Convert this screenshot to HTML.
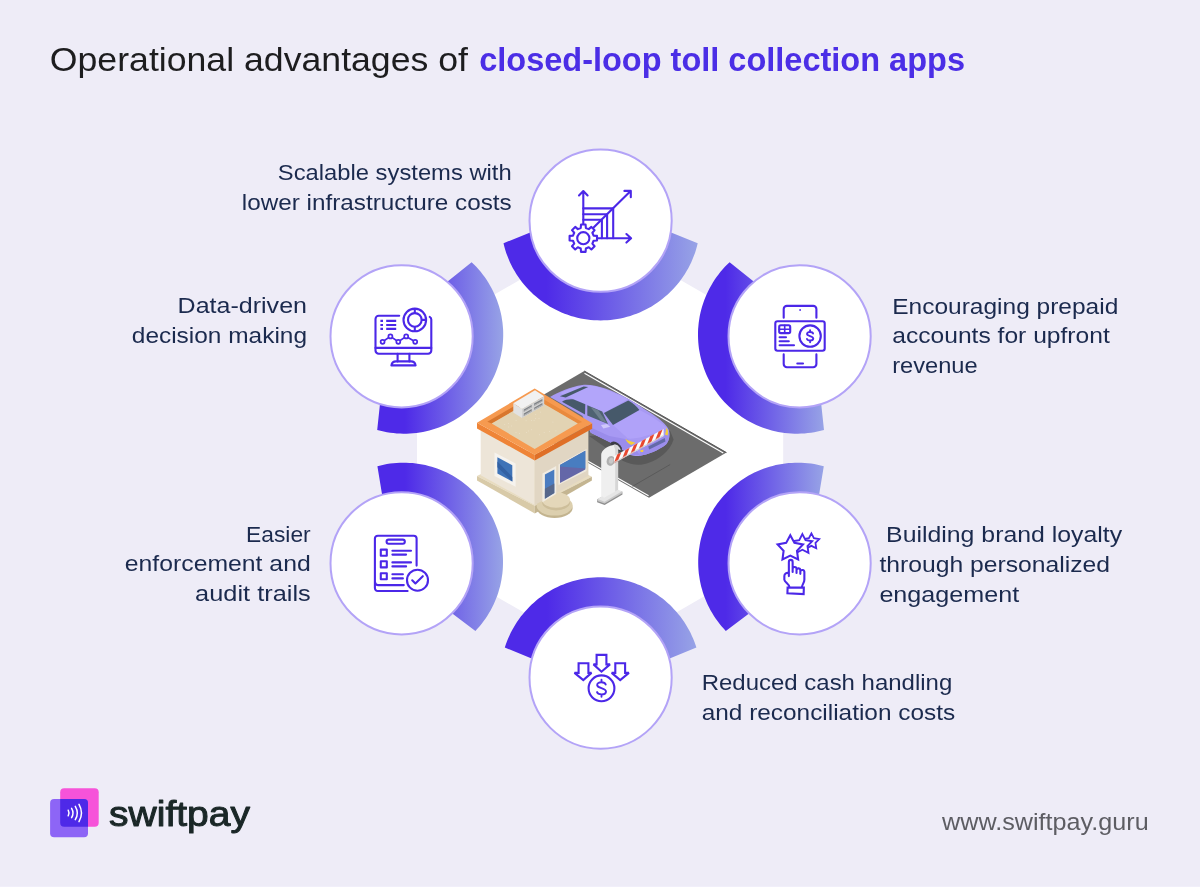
<!DOCTYPE html>
<html><head><meta charset="utf-8"><title>Operational advantages</title>
<style>html,body{margin:0;padding:0;background:#eeecf7;}body{width:1200px;height:887px;overflow:hidden;font-family:"Liberation Sans",sans-serif;}svg{display:block;}</style>
</head><body>
<svg width="1200" height="887" viewBox="0 0 1200 887">
<defs>
<linearGradient id="ag" x1="0" y1="0" x2="1" y2="0">
<stop offset="0" stop-color="#4e2ae8"/><stop offset="0.22" stop-color="#4e2ae8"/><stop offset="1" stop-color="#97a3e6"/>
</linearGradient>
</defs>
<rect width="1200" height="887" fill="#eeecf7"/>
<polygon points="600.1,233.6 417.0,339.3 417.0,550.7 600.1,656.4 783.2,550.7 783.2,339.3" fill="#ffffff"/>
<path d="M697.7,243.2 L696.9,246.5 L696.0,249.7 L695.0,252.9 L693.8,256.0 L692.6,259.1 L691.3,262.2 L689.8,265.2 L688.3,268.2 L686.6,271.1 L684.9,274.0 L683.0,276.8 L681.1,279.5 L679.1,282.2 L677.0,284.8 L674.8,287.3 L672.5,289.8 L670.2,292.1 L667.7,294.4 L665.2,296.6 L662.6,298.8 L660.0,300.8 L657.2,302.7 L654.5,304.6 L651.6,306.4 L648.7,308.0 L645.8,309.6 L642.7,311.1 L639.7,312.4 L636.6,313.7 L633.4,314.8 L630.3,315.9 L627.1,316.8 L623.8,317.7 L620.5,318.4 L617.3,319.0 L613.9,319.5 L610.6,319.9 L607.3,320.2 L603.9,320.3 L600.6,320.4 L597.3,320.3 L593.9,320.2 L590.6,319.9 L587.3,319.5 L583.9,319.0 L580.7,318.4 L577.4,317.7 L574.1,316.8 L570.9,315.9 L567.8,314.8 L564.6,313.7 L561.5,312.4 L558.5,311.1 L555.4,309.6 L552.5,308.0 L549.6,306.4 L546.7,304.6 L544.0,302.7 L541.2,300.8 L538.6,298.8 L536.0,296.6 L533.5,294.4 L531.0,292.1 L528.7,289.8 L526.4,287.3 L524.2,284.8 L522.1,282.2 L520.1,279.5 L518.2,276.8 L516.3,274.0 L514.6,271.1 L512.9,268.2 L511.4,265.2 L509.9,262.2 L508.6,259.1 L507.4,256.0 L506.2,252.9 L505.2,249.7 L504.3,246.5 L503.5,243.2 L548.0,225.3 L600.6,220.7 L653.2,225.3Z" fill="url(#ag)"/>
<path d="M471.6,262.2 L474.0,264.5 L476.3,266.8 L478.5,269.3 L480.7,271.8 L482.7,274.4 L484.7,277.0 L486.6,279.8 L488.3,282.5 L490.0,285.4 L491.6,288.3 L493.1,291.2 L494.5,294.2 L495.8,297.2 L497.0,300.3 L498.1,303.4 L499.1,306.6 L500.0,309.7 L500.8,313.0 L501.5,316.2 L502.0,319.4 L502.5,322.7 L502.8,326.0 L503.1,329.3 L503.2,332.6 L503.2,335.9 L503.1,339.2 L502.9,342.5 L502.6,345.8 L502.2,349.1 L501.6,352.3 L501.0,355.5 L500.2,358.8 L499.4,362.0 L498.4,365.1 L497.3,368.2 L496.2,371.3 L494.9,374.4 L493.5,377.4 L492.1,380.3 L490.5,383.2 L488.8,386.1 L487.1,388.9 L485.2,391.6 L483.3,394.3 L481.2,396.9 L479.1,399.4 L476.9,401.9 L474.6,404.3 L472.3,406.6 L469.8,408.8 L467.3,411.0 L464.8,413.0 L462.1,415.0 L459.4,416.9 L456.6,418.7 L453.8,420.4 L450.9,422.0 L448.0,423.5 L445.0,424.9 L442.0,426.2 L438.9,427.4 L435.8,428.5 L432.6,429.5 L429.4,430.4 L426.2,431.2 L423.0,431.9 L419.8,432.5 L416.5,432.9 L413.2,433.3 L409.9,433.5 L406.6,433.7 L403.3,433.7 L400.0,433.6 L396.7,433.4 L393.4,433.1 L390.2,432.7 L386.9,432.2 L383.7,431.5 L380.4,430.8 L377.2,430.0 L382.3,382.2 L404.2,334.7 L434.2,292.2Z" fill="url(#ag)"/>
<path d="M729.6,262.2 L727.2,264.5 L724.9,266.8 L722.7,269.3 L720.5,271.8 L718.5,274.4 L716.5,277.0 L714.6,279.8 L712.9,282.5 L711.2,285.4 L709.6,288.3 L708.1,291.2 L706.7,294.2 L705.4,297.2 L704.2,300.3 L703.1,303.4 L702.1,306.6 L701.2,309.7 L700.4,313.0 L699.7,316.2 L699.2,319.4 L698.7,322.7 L698.4,326.0 L698.1,329.3 L698.0,332.6 L698.0,335.9 L698.1,339.2 L698.3,342.5 L698.6,345.8 L699.0,349.1 L699.6,352.3 L700.2,355.5 L701.0,358.8 L701.8,362.0 L702.8,365.1 L703.9,368.2 L705.0,371.3 L706.3,374.4 L707.7,377.4 L709.1,380.3 L710.7,383.2 L712.4,386.1 L714.1,388.9 L716.0,391.6 L717.9,394.3 L720.0,396.9 L722.1,399.4 L724.3,401.9 L726.6,404.3 L728.9,406.6 L731.4,408.8 L733.9,411.0 L736.4,413.0 L739.1,415.0 L741.8,416.9 L744.6,418.7 L747.4,420.4 L750.3,422.0 L753.2,423.5 L756.2,424.9 L759.2,426.2 L762.3,427.4 L765.4,428.5 L768.6,429.5 L771.8,430.4 L775.0,431.2 L778.2,431.9 L781.4,432.5 L784.7,432.9 L788.0,433.3 L791.3,433.5 L794.6,433.7 L797.9,433.7 L801.2,433.6 L804.5,433.4 L807.8,433.1 L811.0,432.7 L814.3,432.2 L817.5,431.5 L820.8,430.8 L824.0,430.0 L818.9,382.2 L797.0,334.7 L767.0,292.2Z" fill="url(#ag)"/>
<path d="M377.4,466.2 L380.6,465.4 L383.7,464.7 L386.9,464.1 L390.1,463.6 L393.3,463.2 L396.5,462.9 L399.8,462.8 L403.0,462.7 L406.2,462.7 L409.5,462.9 L412.7,463.1 L415.9,463.5 L419.1,463.9 L422.3,464.5 L425.4,465.1 L428.6,465.9 L431.7,466.8 L434.8,467.7 L437.8,468.8 L440.9,470.0 L443.8,471.2 L446.8,472.6 L449.6,474.0 L452.5,475.6 L455.3,477.2 L458.0,479.0 L460.7,480.8 L463.3,482.7 L465.8,484.7 L468.3,486.7 L470.8,488.9 L473.1,491.1 L475.4,493.4 L477.6,495.8 L479.7,498.2 L481.7,500.7 L483.7,503.3 L485.6,505.9 L487.3,508.6 L489.0,511.4 L490.6,514.2 L492.2,517.0 L493.6,519.9 L494.9,522.9 L496.1,525.9 L497.3,528.9 L498.3,532.0 L499.2,535.1 L500.1,538.2 L500.8,541.3 L501.4,544.5 L501.9,547.7 L502.4,550.9 L502.7,554.1 L502.9,557.3 L503.0,560.6 L503.0,563.8 L502.9,567.0 L502.7,570.3 L502.4,573.5 L501.9,576.7 L501.4,579.9 L500.8,583.0 L500.1,586.2 L499.2,589.3 L498.3,592.4 L497.3,595.5 L496.1,598.5 L494.9,601.5 L493.6,604.4 L492.2,607.3 L490.7,610.2 L489.0,613.0 L487.4,615.8 L485.6,618.5 L483.7,621.1 L481.7,623.7 L479.7,626.2 L477.6,628.6 L475.4,631.0 L437.1,602.1 L403.5,562.2 L385.2,513.5Z" fill="url(#ag)"/>
<path d="M823.8,466.2 L820.6,465.4 L817.5,464.7 L814.3,464.1 L811.1,463.6 L807.9,463.2 L804.7,462.9 L801.4,462.8 L798.2,462.7 L795.0,462.7 L791.7,462.9 L788.5,463.1 L785.3,463.5 L782.1,463.9 L778.9,464.5 L775.8,465.1 L772.6,465.9 L769.5,466.8 L766.4,467.7 L763.4,468.8 L760.3,470.0 L757.4,471.2 L754.4,472.6 L751.6,474.0 L748.7,475.6 L745.9,477.2 L743.2,479.0 L740.5,480.8 L737.9,482.7 L735.4,484.7 L732.9,486.7 L730.4,488.9 L728.1,491.1 L725.8,493.4 L723.6,495.8 L721.5,498.2 L719.5,500.7 L717.5,503.3 L715.6,505.9 L713.9,508.6 L712.2,511.4 L710.6,514.2 L709.0,517.0 L707.6,519.9 L706.3,522.9 L705.1,525.9 L703.9,528.9 L702.9,532.0 L702.0,535.1 L701.1,538.2 L700.4,541.3 L699.8,544.5 L699.3,547.7 L698.8,550.9 L698.5,554.1 L698.3,557.3 L698.2,560.6 L698.2,563.8 L698.3,567.0 L698.5,570.3 L698.8,573.5 L699.3,576.7 L699.8,579.9 L700.4,583.0 L701.1,586.2 L702.0,589.3 L702.9,592.4 L703.9,595.5 L705.1,598.5 L706.3,601.5 L707.6,604.4 L709.0,607.3 L710.5,610.2 L712.2,613.0 L713.8,615.8 L715.6,618.5 L717.5,621.1 L719.5,623.7 L721.5,626.2 L723.6,628.6 L725.8,631.0 L764.1,602.1 L797.7,562.2 L816.0,513.5Z" fill="url(#ag)"/>
<path d="M504.8,647.5 L505.8,644.5 L506.9,641.5 L508.1,638.6 L509.4,635.7 L510.7,632.8 L512.2,630.0 L513.8,627.2 L515.4,624.5 L517.1,621.8 L518.9,619.2 L520.8,616.6 L522.8,614.2 L524.8,611.7 L527.0,609.4 L529.2,607.1 L531.4,604.8 L533.8,602.7 L536.2,600.6 L538.6,598.6 L541.2,596.7 L543.8,594.8 L546.4,593.1 L549.1,591.4 L551.9,589.8 L554.7,588.3 L557.5,586.9 L560.4,585.6 L563.4,584.4 L566.3,583.2 L569.3,582.2 L572.4,581.3 L575.4,580.4 L578.5,579.7 L581.6,579.0 L584.8,578.5 L587.9,578.0 L591.1,577.7 L594.2,577.4 L597.4,577.3 L600.6,577.2 L603.8,577.3 L607.0,577.4 L610.1,577.7 L613.3,578.0 L616.4,578.5 L619.6,579.0 L622.7,579.7 L625.8,580.4 L628.8,581.3 L631.9,582.2 L634.9,583.2 L637.8,584.4 L640.8,585.6 L643.7,586.9 L646.5,588.3 L649.3,589.8 L652.1,591.4 L654.8,593.1 L657.4,594.8 L660.0,596.7 L662.6,598.6 L665.0,600.6 L667.4,602.7 L669.8,604.8 L672.0,607.1 L674.2,609.4 L676.4,611.7 L678.4,614.2 L680.4,616.6 L682.3,619.2 L684.1,621.8 L685.8,624.5 L687.4,627.2 L689.0,630.0 L690.5,632.8 L691.8,635.7 L693.1,638.6 L694.3,641.5 L695.4,644.5 L696.4,647.5 L652.0,665.7 L600.6,677.6 L549.2,665.7Z" fill="url(#ag)"/>
<circle cx="600.6" cy="220.7" r="71.1" fill="#ffffff" stroke="#b3a3f7" stroke-width="2"/>
<circle cx="401.6" cy="336.3" r="71.1" fill="#ffffff" stroke="#b3a3f7" stroke-width="2"/>
<circle cx="799.6" cy="336.3" r="71.1" fill="#ffffff" stroke="#b3a3f7" stroke-width="2"/>
<circle cx="401.6" cy="563.3" r="71.1" fill="#ffffff" stroke="#b3a3f7" stroke-width="2"/>
<circle cx="799.6" cy="563.3" r="71.1" fill="#ffffff" stroke="#b3a3f7" stroke-width="2"/>
<circle cx="600.6" cy="677.6" r="71.1" fill="#ffffff" stroke="#b3a3f7" stroke-width="2"/>
<g>
<polygon points="584.3,371.0 726.5,452.6 649.0,497.8 506.8,416.2" fill="#6c6c6c" />
<path d="M584.3,371.0 L726.5,452.6" stroke="#4d4d4d" stroke-width="0.9" fill="none"/>
<path d="M584.5,373.2 L723.3,452.9" stroke="#ffffff" stroke-width="1.1" fill="none"/>
<path d="M509.8,416.4 L648.6,495.7" stroke="#ffffff" stroke-width="1.1" fill="none"/>
<path d="M 632.6,486.3 L 670.2,464.5" fill="none" stroke="#585858" stroke-width="0.9"/>
<path d="M 589.0,436.1 L 611.0,451.3 C 619.5,461.4 634.7,468.2 648.2,463.1 C 658.3,459.7 670.2,451.3 673.6,439.5 L 670.2,431.0 Z" fill="#595959" />
<path d="M 550.1,396.9 C 558.6,392.1 570.4,386.7 582.3,385.0 C 594.1,383.7 611.0,389.6 627.9,398.5 C 634.7,402.3 641.4,407.3 648.2,411.6 C 658.3,417.5 666.8,425.1 668.5,429.3 C 670.5,434.4 669.8,439.5 666.0,444.5 C 658.3,450.4 648.2,454.7 638.9,456.0 C 632.1,456.4 627.9,453.8 623.7,450.4 L 614.4,444.5 L 590.7,432.7 L 582.3,415.8 Z" fill="#a799f3" />
<path d="M 560.3,393.0 C 570.4,387.0 580.6,385.4 589.0,385.4 C 600.9,386.2 616.1,393.0 627.9,399.2 L 604.2,412.7 C 595.8,408.2 585.6,404.3 573.8,399.2 Z" fill="#b2a5fa" />
<path d="M 613.0,424.9 L 639.4,410.0 C 651.6,415.8 663.4,424.2 667.1,428.5 C 658.3,431.0 641.4,439.5 627.9,438.6 Z" fill="#b0a2f9" />
<path d="M 590.7,427.6 L 609.3,436.1 L 627.9,439.5 L 639.7,454.7 C 633.0,456.0 627.9,453.8 623.7,450.4 L 614.4,444.5 L 590.7,432.7 Z" fill="#9a8ceb" />
<path d="M 641.4,447.9 C 651.6,444.5 661.7,437.8 668.5,432.7 C 669.8,437.8 668.5,442.0 666.0,444.5 C 658.3,450.4 648.2,454.7 638.9,456.0 Z" fill="#9c8eec" />
<path d="M 648.2,446.6 L 664.8,438.1 L 665.4,441.5 L 649.2,449.6 Z" fill="#636aa8" />
<path d="M 559.9,396.3 L 583.6,386.5 L 588.2,387.0 L 565.7,397.5 Z" fill="#46596a" />
<path d="M 562.0,401.8 C 565.4,399.2 571.3,398.9 573.8,399.6 L 585.3,404.3 L 585.0,414.4 Z" fill="#46596a" />
<path d="M 587.3,405.3 L 602.2,411.6 L 608.0,423.9 L 587.3,415.5 Z" fill="#4f6271" />
<path d="M 603.9,413.1 L 628.3,400.6 C 633.0,403.1 636.4,406.5 639.4,410.0 L 613.0,424.9 Z" fill="#46596a" />
<path d="M 590.7,407.3 L 598.3,410.2 L 606.8,422.9 L 600.9,420.5 Z" fill="#6d7f8c" />
<path d="M 600.9,425.1 L 606.8,423.9 L 610.2,426.8 L 603.4,428.5 Z" fill="#cfc8fb" />
<path d="M 625.4,439.1 C 628.8,441.1 632.1,442.0 635.5,442.8 L 631.3,445.0 C 628.8,444.2 626.6,442.0 625.4,439.1 Z" fill="#f4cf3a" />
<path d="M 666.0,428.0 C 668.0,429.0 668.8,431.9 667.6,435.6 L 665.1,434.4 C 666.0,431.9 666.0,429.7 666.0,428.0 Z" fill="#f4cf3a" />
<path d="M 640.1,450.4 L 643.5,449.6 L 643.1,452.1 L 640.8,452.1 Z" fill="#f4cf3a" />
<path d="M 610.2,443.7 C 611.9,439.5 618.6,441.1 622.0,447.9 L 621.1,452.1 L 612.7,447.9 Z" fill="#3c3c46" />
<path d="M 614.4,444.5 C 616.9,443.7 620.3,447.1 620.8,450.4 L 616.9,448.8 Z" fill="#d8d8de" />
<path d="M 597.1,499.6 L 605.1,494.9 L 622.3,491.5 L 622.5,494.6 L 604.6,505.1 L 597.1,502.3 Z" fill="#8f8f8f" />
<path d="M 597.5,499.0 L 605.1,494.9 L 622.0,491.0 L 622.2,493.2 L 604.6,503.4 L 597.5,501.0 Z" fill="#c9c9c9" />
<path d="M 597.5,499.0 L 615.2,488.8 L 622.0,491.2 L 604.6,501.7 Z" fill="#e6e6e6" />
<path d="M 601.2,454.7 C 601.2,450.4 607.6,445.4 613.5,444.9 C 616.4,444.5 618.1,446.2 618.1,448.8 L 618.1,489.8 L 604.2,497.8 L 601.2,496.1 Z" fill="#efefef" />
<path d="M 613.5,444.9 C 616.4,444.5 618.1,446.2 618.1,448.8 L 618.1,489.8 L 615.2,491.5 L 615.2,449.6 Z" fill="#d6d6d6" />
<ellipse cx="610.7" cy="460.9" rx="4.0" ry="5.0" fill="#b0b0b0" transform="rotate(20 610.7 460.9)"/>
<ellipse cx="611.2" cy="460.8" rx="2.2" ry="3.0" fill="#c9c9c9" transform="rotate(20 611.2 460.8)"/>
<polygon points="614.0,456.2 663.6,428.9 663.6,435.9 614.0,463.2" fill="#fbfbfb"/>
<polygon points="617.2,454.5 621.3,452.2 617.8,461.2 613.7,463.4" fill="#e8482f"/>
<polygon points="625.5,449.9 629.6,447.7 626.1,456.6 622.0,458.9" fill="#e8482f"/>
<polygon points="633.7,445.4 637.8,443.1 634.3,452.0 630.2,454.3" fill="#e8482f"/>
<polygon points="642.0,440.8 646.1,438.5 642.6,447.5 638.5,449.7" fill="#e8482f"/>
<polygon points="650.2,436.2 654.4,434.0 650.9,442.9 646.7,445.2" fill="#e8482f"/>
<polygon points="658.5,431.7 662.6,429.4 659.1,438.3 655.0,440.6" fill="#e8482f"/>
<polygon points="614.0,462.1 663.6,434.8 663.6,435.9 614.0,463.2" fill="#cfcfcf" opacity="0.9"/>
<polygon points="477.0,476.1 534.8,505.8 591.9,476.7 534.8,447.5" fill="#e8dcc0" />
<polygon points="477.0,476.1 534.8,505.8 534.8,513.5 477.0,480.4" fill="#d8caa8" />
<polygon points="534.8,505.8 591.9,476.7 591.9,480.4 534.8,513.5" fill="#c4b591" />
<ellipse cx="554.6" cy="507.9" rx="18.0" ry="10.0" fill="#c3b48f"/>
<ellipse cx="554.6" cy="505.6" rx="18.0" ry="10.0" fill="#dccfae"/>
<ellipse cx="556.1" cy="502.6" rx="14.0" ry="7.8" fill="#cdbe9a"/>
<ellipse cx="556.1" cy="500.0" rx="14.0" ry="7.8" fill="#e4d7b9"/>
<polygon points="480.7,426.1 534.7,456.8 534.7,505.0 480.7,475.3" fill="#ede5d8" />
<polygon points="534.7,456.8 588.4,427.1 588.4,475.7 534.7,505.0" fill="#e1d6c3" />
<polygon points="477.0,422.8 534.7,454.7 534.7,460.4 477.0,428.4" fill="#ef8437" />
<polygon points="534.7,454.7 592.2,423.3 592.2,428.7 534.7,460.4" fill="#df6f27" />
<polygon points="534.7,388.4 592.2,423.3 534.7,454.7 477.0,422.8" fill="#f69a50" />
<polygon points="487.3,421.8 534.7,394.1 534.7,399.0 491.7,423.5" fill="#d8772e" />
<polygon points="534.7,394.1 582.1,422.0 577.8,423.5 534.7,399.0" fill="#e98a3e" />
<polygon points="491.7,423.5 534.7,398.6 577.8,423.5 534.7,448.9" fill="#e2d3b3" />
<rect x="515.7" y="420.0" width="0.8" height="0.6" fill="#efe6d2"/>
<rect x="524.7" y="411.5" width="0.8" height="0.6" fill="#efe6d2"/>
<rect x="531.1" y="420.2" width="0.8" height="0.6" fill="#efe6d2"/>
<rect x="519.0" y="433.2" width="0.8" height="0.6" fill="#efe6d2"/>
<rect x="515.6" y="432.0" width="0.8" height="0.6" fill="#efe6d2"/>
<rect x="504.3" y="424.1" width="0.8" height="0.6" fill="#efe6d2"/>
<rect x="543.8" y="432.3" width="0.8" height="0.6" fill="#efe6d2"/>
<rect x="511.1" y="425.7" width="0.8" height="0.6" fill="#efe6d2"/>
<rect x="555.5" y="430.6" width="0.8" height="0.6" fill="#efe6d2"/>
<rect x="533.7" y="420.0" width="0.8" height="0.6" fill="#efe6d2"/>
<rect x="535.5" y="404.1" width="0.8" height="0.6" fill="#efe6d2"/>
<rect x="540.0" y="411.8" width="0.8" height="0.6" fill="#efe6d2"/>
<rect x="508.0" y="423.1" width="0.8" height="0.6" fill="#efe6d2"/>
<rect x="539.2" y="434.5" width="0.8" height="0.6" fill="#efe6d2"/>
<rect x="526.1" y="432.2" width="0.8" height="0.6" fill="#efe6d2"/>
<rect x="535.1" y="418.1" width="0.8" height="0.6" fill="#efe6d2"/>
<rect x="520.6" y="413.5" width="0.8" height="0.6" fill="#efe6d2"/>
<rect x="508.1" y="426.7" width="0.8" height="0.6" fill="#efe6d2"/>
<rect x="538.6" y="418.4" width="0.8" height="0.6" fill="#efe6d2"/>
<rect x="531.1" y="429.5" width="0.8" height="0.6" fill="#efe6d2"/>
<rect x="525.7" y="420.5" width="0.8" height="0.6" fill="#efe6d2"/>
<rect x="552.5" y="421.8" width="0.8" height="0.6" fill="#efe6d2"/>
<rect x="528.1" y="430.7" width="0.8" height="0.6" fill="#efe6d2"/>
<rect x="549.1" y="431.2" width="0.8" height="0.6" fill="#efe6d2"/>
<rect x="535.3" y="414.4" width="0.8" height="0.6" fill="#efe6d2"/>
<rect x="538.2" y="405.6" width="0.8" height="0.6" fill="#efe6d2"/>
<polygon points="513.3,403.3 535.0,390.3 544.2,396.2 522.0,409.0" fill="#f1f1f1" />
<polygon points="513.3,403.3 522.0,409.0 522.0,418.1 513.3,412.5" fill="#e2e2e2" />
<polygon points="522.0,409.0 544.2,396.2 544.2,405.6 522.0,418.1" fill="#d2d2d2" />
<polygon points="523.8,409.5 531.7,404.9 531.7,407.3 523.8,411.8" fill="#7e8286" />
<polygon points="523.8,410.9 531.7,406.3 531.7,407.3 523.8,411.8" fill="#b9b9b9" />
<polygon points="523.8,413.6 531.7,409.0 531.7,411.4 523.8,416.0" fill="#7e8286" />
<polygon points="523.8,415.0 531.7,410.4 531.7,411.4 523.8,416.0" fill="#b9b9b9" />
<polygon points="534.1,403.6 542.4,399.0 542.4,401.3 534.1,406.0" fill="#7e8286" />
<polygon points="534.1,405.0 542.4,400.4 542.4,401.3 534.1,406.0" fill="#b9b9b9" />
<polygon points="534.1,407.7 542.4,403.1 542.4,405.5 534.1,410.1" fill="#7e8286" />
<polygon points="534.1,409.1 542.4,404.5 542.4,405.5 534.1,410.1" fill="#b9b9b9" />
<polygon points="494.5,452.4 515.6,463.5 515.6,486.8 494.5,475.9" fill="#f6f3ee" />
<polygon points="497.4,457.3 512.3,465.2 512.3,481.5 497.4,473.6" fill="#3f73b7" />
<polygon points="497.4,461.6 512.3,476.9 512.3,481.5 497.4,467.3" fill="#3361a3" />
<polygon points="542.4,473.4 556.2,466.0 556.2,494.1 542.4,502.2" fill="#f1ece2" />
<polygon points="544.9,474.4 554.3,469.4 554.3,493.0 544.9,498.7" fill="#4a7cc0" />
<polygon points="544.9,488.8 554.3,483.6 554.3,493.0 544.9,498.7" fill="#56678b" />
<polygon points="558.5,464.4 586.5,448.9 586.5,471.1 558.5,484.9" fill="#efe9de" />
<polygon points="560.0,465.0 585.3,450.8 585.3,469.6 560.0,483.0" fill="#6467a8" />
<polygon points="560.0,465.0 585.3,450.8 585.3,468.4 560.0,466.5" fill="#487dc0" />
</g>
<g fill="none" stroke="#4b27e8" stroke-width="2.1" stroke-linecap="round" stroke-linejoin="round">
<g>
<path d="M583.3,224.5 V191.4 M579.0,195.4 L583.3,191.1 L587.6,195.4"/>
<path d="M597.5,238.2 H630.8 M626.4,234.0 L631.1,238.2 L626.4,242.6"/>
<path d="M593.6,227.6 L630.6,191.0 M624.4,190.9 H630.8 V197.2"/>
<path d="M583.3,208.4 H613.2 V238.2 M583.3,214.3 H607.1 V238.2 M583.3,219.8 H601.9 V238.2"/>
<path d="M580.74,227.91 L581.02,224.49 L585.58,224.49 L585.86,227.91 L588.77,229.12 L591.38,226.89 L594.61,230.12 L592.38,232.73 L593.59,235.64 L597.01,235.92 L597.01,240.48 L593.59,240.76 L592.38,243.67 L594.61,246.28 L591.38,249.51 L588.77,247.28 L585.86,248.49 L585.58,251.91 L581.02,251.91 L580.74,248.49 L577.83,247.28 L575.22,249.51 L571.99,246.28 L574.22,243.67 L573.01,240.76 L569.59,240.48 L569.59,235.92 L573.01,235.64 L574.22,232.73 L571.99,230.12 L575.22,226.89 L577.83,229.12Z" fill="#fff"/>
<circle cx="583.3" cy="238.2" r="6.1"/>
</g>
<g>
<path d="M399.2,315.8 H378.7 a3.2,3.2 0 0 0 -3.2,3.2 V350.5 a3.2,3.2 0 0 0 3.2,3.2 H428.1 a3.2,3.2 0 0 0 3.2,-3.2 V319.6 a3,3 0 0 0 -1.6,-2.7"/>
<path d="M375.5,347.9 H431.3"/>
<path d="M397.6,353.7 V361.4 M409.4,353.7 V361.4"/>
<path d="M391.4,365.4 Q392,361.4 396,361.4 H411 Q415,361.4 415.6,365.4 Z"/>
<path d="M380.4,320.8 H383 M386.2,320.8 H396.2" stroke-width="2.2" stroke-linecap="butt"/>
<path d="M380.4,325.0 H383 M386.2,325.0 H396.2" stroke-width="2.2" stroke-linecap="butt"/>
<path d="M380.4,328.9 H383 M386.2,328.9 H396.2" stroke-width="2.2" stroke-linecap="butt"/>
<circle cx="414.8" cy="319.9" r="11.3" fill="#fff"/>
<circle cx="414.8" cy="319.9" r="6.8"/>
<path d="M414.8,308.6 V313.1 M414.8,326.7 V331.2 M421.6,319.9 H426.1" stroke-linecap="butt"/>
<path d="M382.6,341.8 L390.4,336.4 L398.3,341.8 L406.2,336.4 L415.2,341.8" stroke-width="1.7"/>
<circle cx="382.6" cy="341.8" r="2" fill="#fff" stroke-width="1.7"/>
<circle cx="390.4" cy="336.4" r="2" fill="#fff" stroke-width="1.7"/>
<circle cx="398.3" cy="341.8" r="2" fill="#fff" stroke-width="1.7"/>
<circle cx="406.2" cy="336.4" r="2" fill="#fff" stroke-width="1.7"/>
<circle cx="415.2" cy="341.8" r="2" fill="#fff" stroke-width="1.7"/>
</g>
<g>
<path d="M783.7,317.8 V309.1 a3.2,3.2 0 0 1 3.2,-3.2 H813.2 a3.2,3.2 0 0 1 3.2,3.2 V317.8"/>
<path d="M783.7,354.4 V364.0 a3.2,3.2 0 0 0 3.2,3.2 H813.2 a3.2,3.2 0 0 0 3.2,-3.2 V354.4"/>
<circle cx="800.1" cy="310" r="0.9" fill="#4b27e8" stroke="none"/>
<path d="M797.3,363.5 H803"/>
<rect x="775.3" y="321.3" width="49.4" height="29.5" rx="2.2"/>
<rect x="779.2" y="325.3" width="11" height="7.8" rx="1.6"/>
<path d="M784.7,325.3 V333.1 M779.2,329.2 H790.2" stroke-width="1.6"/>
<path d="M779.6,337.3 H786 M779.6,341.2 H788.8 M779.6,345.2 H794" />
<circle cx="810.1" cy="336.1" r="10.7"/>
<path d="M813.06,333.55 C812.55,331.51 806.94,331.20 807.04,333.96 C807.14,336.40 813.36,335.79 813.26,338.55 C813.16,341.20 807.45,340.99 806.94,338.85 M810.10,330.18 V331.92 M810.10,340.48 V342.22" stroke-width="1.9"/>
</g>
<g>
<path d="M416.6,565.6 V538.6 a2.9,2.9 0 0 0 -2.9,-2.9 H377.8 a2.9,2.9 0 0 0 -2.9,2.9 V588.1 a2.9,2.9 0 0 0 2.9,2.9 H407.6"/>
<path d="M375.2,582.6 Q375.6,585.1 378.4,585.1 H403.8"/>
<rect x="386.6" y="539.6" width="18.2" height="4.1" rx="2"/>
<rect x="380.8" y="549.6" width="6" height="6.1"/>
<rect x="380.8" y="561.3" width="6" height="6.1"/>
<rect x="380.8" y="573.2" width="6" height="6.1"/>
<path d="M392.4,550.7 H411 M392.4,554.6 H406.1 M392.4,562.4 H411 M392.4,566.4 H406.1 M392.4,574.3 H402.9 M392.4,578.4 H402.9"/>
<circle cx="417.5" cy="580.2" r="10.5" fill="#fff"/>
<path d="M412.2,580.3 L415.4,583.5 L422.8,576.2"/>
</g>
<g stroke-linejoin="miter">
<path d="M811.40,533.40 L813.91,538.15 L819.20,539.07 L815.46,542.92 L816.22,548.23 L811.40,545.86 L806.58,548.23 L807.34,542.92 L803.60,539.07 L808.89,538.15Z" fill="#fff" stroke-width="1.8"/>
<path d="M802.40,534.10 L805.55,540.07 L812.20,541.22 L807.49,546.06 L808.45,552.73 L802.40,549.76 L796.35,552.73 L797.31,546.06 L792.60,541.22 L799.25,540.07Z" fill="#fff" stroke-width="1.9"/>
<path d="M790.30,535.30 L794.44,542.90 L802.95,544.49 L797.00,550.78 L798.12,559.36 L790.30,555.65 L782.48,559.36 L783.60,550.78 L777.65,544.49 L786.16,542.90Z" fill="#fff"/>
</g>
<path d="M 788.86,576.11 L 788.86,562.14 C 788.86,559.16 792.65,559.16 792.65,562.14 L 792.65,572.06 M 792.65,568.45 C 793.55,566.37 796.53,566.64 796.53,568.90 L 796.53,572.96 M 796.53,569.62 C 797.16,567.82 800.32,568.00 800.32,570.25 L 800.32,573.86 M 800.32,571.15 C 801.04,569.35 804.37,569.62 804.37,572.06 L 804.37,579.72 C 804.37,582.43 802.39,584.23 802.03,586.76 M 788.86,572.96 C 786.61,572.51 784.35,573.41 784.35,576.11 L 784.35,579.72 C 784.53,581.98 789.31,584.23 789.31,586.76"/>
<path d="M 787.60,587.66 L 803.83,587.66 L 803.65,594.15 L 787.42,593.25 Z" stroke-linejoin="miter"/>
<g stroke-linejoin="miter" stroke-miterlimit="2">
<path d="M596.6,654.9 H606.4 V664.4 H610.0 L601.5,671.7 L593.5,664.4 H596.6 Z"/>
<path d="M578.6,663.3 H588.4 V672.9 H591.5 L583.3,680.1 L574.5,672.9 H578.6 Z"/>
<path d="M615.3,663.3 H625.1 V672.9 H628.9 L620.2,680.1 L611.7,672.9 H615.3 Z"/>
</g>
<circle cx="601.5" cy="688.3" r="12.9"/>
<path d="M605.71,684.53 C604.98,681.63 597.00,681.19 597.15,685.11 C597.29,688.59 606.14,687.72 606.00,691.63 C605.85,695.40 597.73,695.12 597.00,692.07 M601.50,679.75 V682.21 M601.50,694.39 V696.85" stroke-width="1.9"/>
</g>
<g font-family="'Liberation Sans', sans-serif" style="will-change:transform">
<text x="49.8" y="70.8" font-size="34" font-weight="400" fill="#1d1d1f" text-anchor="start" textLength="418.2" lengthAdjust="spacingAndGlyphs" >Operational advantages of</text>
<text x="479.2" y="70.8" font-size="32.5" font-weight="700" fill="#4b2ee6" text-anchor="start" textLength="485.8" lengthAdjust="spacingAndGlyphs" >closed-loop toll collection apps</text>
<text x="511.7" y="180.3" font-size="22.5" font-weight="400" fill="#1b2a4e" text-anchor="end" textLength="233.9" lengthAdjust="spacingAndGlyphs" >Scalable systems with</text>
<text x="511.7" y="210.0" font-size="22.5" font-weight="400" fill="#1b2a4e" text-anchor="end" textLength="269.9" lengthAdjust="spacingAndGlyphs" >lower infrastructure costs</text>
<text x="307.0" y="313" font-size="22.5" font-weight="400" fill="#1b2a4e" text-anchor="end" textLength="129.4" lengthAdjust="spacingAndGlyphs" >Data-driven</text>
<text x="307.0" y="343" font-size="22.5" font-weight="400" fill="#1b2a4e" text-anchor="end" textLength="175.2" lengthAdjust="spacingAndGlyphs" >decision making</text>
<text x="892.2" y="313.6" font-size="22.5" font-weight="400" fill="#1b2a4e" text-anchor="start" textLength="226.1" lengthAdjust="spacingAndGlyphs" >Encouraging prepaid</text>
<text x="892.2" y="343.4" font-size="22.5" font-weight="400" fill="#1b2a4e" text-anchor="start" textLength="217.6" lengthAdjust="spacingAndGlyphs" >accounts for upfront</text>
<text x="892.2" y="373.4" font-size="22.5" font-weight="400" fill="#1b2a4e" text-anchor="start" textLength="85.5" lengthAdjust="spacingAndGlyphs" >revenue</text>
<text x="886.1" y="541.6" font-size="22.5" font-weight="400" fill="#1b2a4e" text-anchor="start" textLength="236.0" lengthAdjust="spacingAndGlyphs" >Building brand loyalty</text>
<text x="879.4" y="571.6" font-size="22.5" font-weight="400" fill="#1b2a4e" text-anchor="start" textLength="230.6" lengthAdjust="spacingAndGlyphs" >through personalized</text>
<text x="879.4" y="601.6" font-size="22.5" font-weight="400" fill="#1b2a4e" text-anchor="start" textLength="139.8" lengthAdjust="spacingAndGlyphs" >engagement</text>
<text x="310.7" y="541.8" font-size="22.5" font-weight="400" fill="#1b2a4e" text-anchor="end" textLength="64.6" lengthAdjust="spacingAndGlyphs" >Easier</text>
<text x="310.7" y="571.4" font-size="22.5" font-weight="400" fill="#1b2a4e" text-anchor="end" textLength="185.9" lengthAdjust="spacingAndGlyphs" >enforcement and</text>
<text x="310.7" y="601.4" font-size="22.5" font-weight="400" fill="#1b2a4e" text-anchor="end" textLength="115.6" lengthAdjust="spacingAndGlyphs" >audit trails</text>
<text x="701.7" y="690" font-size="22.5" font-weight="400" fill="#1b2a4e" text-anchor="start" textLength="250.6" lengthAdjust="spacingAndGlyphs" >Reduced cash handling</text>
<text x="701.7" y="720" font-size="22.5" font-weight="400" fill="#1b2a4e" text-anchor="start" textLength="253.5" lengthAdjust="spacingAndGlyphs" >and reconciliation costs</text>
<text x="942.1" y="830" font-size="24.5" font-weight="400" fill="#5d5d63" text-anchor="start" textLength="206.6" lengthAdjust="spacingAndGlyphs" >www.swiftpay.guru</text>
<text x="109.1" y="825.8" font-size="35" font-weight="400" fill="#1a2727" text-anchor="start" textLength="140.8" lengthAdjust="spacingAndGlyphs" stroke="#1a2727" stroke-width="1.0" stroke-linejoin="round">swiftpay</text>
</g>
<g>
<rect x="60.2" y="788.2" width="38.5" height="38.5" rx="4" fill="#f653d9"/>
<rect x="50.1" y="798.9" width="37.9" height="38.3" rx="4" fill="#8d65f6"/>
<path d="M60.2,798.9 H84 a4,4 0 0 1 4,4 V826.7 H64.2 a4,4 0 0 1 -4,-4 Z" fill="#4e29e8"/>
<g fill="none" stroke="#ffffff" stroke-width="1.5" stroke-linecap="round">
<path d="M68.2,810.2 q1.6,2.8 0,5.6"/>
<path d="M71.6,808.3 q2.8,4.7 0,9.4"/>
<path d="M75.3,806.3 q4,6.7 0,13.4"/>
<path d="M79,804.4 q5,8.6 0,17.2"/>
</g>
</g>
<rect x="0" y="886" width="1200" height="1" fill="#f1effa"/>
</svg>
</body></html>
